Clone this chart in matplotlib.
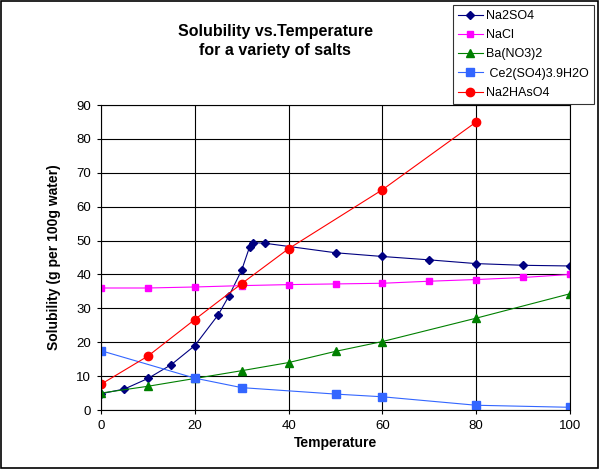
import matplotlib
matplotlib.use("Agg")
import matplotlib.pyplot as plt
from matplotlib.patches import Rectangle

plt.rcParams['font.family'] = ['Liberation Sans', 'DejaVu Sans']

# ---- data ----
na2so4_t = [0, 5, 10, 15, 20, 25, 27.3, 30, 31.7, 32.4, 35, 50, 60, 70, 80, 90, 100]
na2so4_s = [4.8, 6.2, 9.3, 13.4, 19.0, 28.1, 33.7, 41.3, 48.2, 49.4, 49.2, 46.4, 45.3, 44.3, 43.2, 42.7, 42.5]

nacl_t = [0, 10, 20, 30, 40, 50, 60, 70, 80, 90, 100]
nacl_s = [36.0, 36.0, 36.3, 36.7, 37.0, 37.2, 37.4, 38.0, 38.5, 39.1, 40.0]

bano3_t = [0, 10, 20, 30, 40, 50, 60, 80, 100]
bano3_s = [5.0, 7.0, 9.3, 11.6, 14.0, 17.3, 20.2, 27.1, 34.3]

ce_t = [0, 20, 30, 50, 60, 80, 100]
ce_s = [17.5, 9.4, 6.6, 4.7, 3.9, 1.4, 0.8]

arsen_t = [0, 10, 20, 30, 40, 60, 80]
arsen_s = [7.6, 15.9, 26.7, 37.3, 47.6, 65.0, 85.0]

x_ticks = [0, 20, 40, 60, 80, 100]
y_ticks = [0, 10, 20, 30, 40, 50, 60, 70, 80, 90]

fig = plt.figure(figsize=(6, 4.69), dpi=100)
ax = fig.add_axes([101/600, 1 - 410/469, 469/600, 305/469])

ax.plot(na2so4_t, na2so4_s, color='#000080', lw=0.8, marker='D', ms=4, label='Na2SO4')
ax.plot(nacl_t, nacl_s, color='#FF00FF', lw=0.8, marker='s', ms=4.5, label='NaCl')
ax.plot(bano3_t, bano3_s, color='#008000', lw=0.8, marker='^', ms=5.5, label='Ba(NO3)2')
ax.plot(ce_t, ce_s, color='#3366FF', lw=0.8, marker='s', ms=6, label=' Ce2(SO4)3.9H2O')
ax.plot(arsen_t, arsen_s, color='#FF0000', lw=0.8, marker='o', ms=6, label='Na2HAsO4')

ax.set_xlim(0, 100)
ax.set_ylim(0, 90)
ax.set_xticks(x_ticks)
ax.set_yticks(y_ticks)
ax.grid(True, color='black', lw=0.8)
ax.set_axisbelow(True)
for s in ax.spines.values():
    s.set_color('black')
    s.set_linewidth(0.8)
ax.tick_params(direction='out', length=3, width=0.8, labelsize=9.5, pad=4)

ax.set_xlabel('Temperature', fontsize=10, fontweight='bold', labelpad=3)
ax.set_ylabel('Solubility (g per 100g water)', fontsize=10, fontweight='bold', labelpad=11)

fig.text(275/600, 1 - 41/469, 'Solubility vs.Temperature\nfor a variety of salts',
         ha='center', va='center', fontsize=11.5, fontweight='bold', linespacing=1.4)

leg = fig.legend(loc='upper right', bbox_to_anchor=(594/600, 1 - 5/469),
                 fontsize=9, frameon=True, fancybox=False, handlelength=2.0,
                 borderpad=0.4, labelspacing=0.58, handletextpad=0.3,
                 borderaxespad=0)
leg.get_frame().set_edgecolor('black')
leg.get_frame().set_linewidth(0.8)

fig.patches.append(Rectangle((0.002, 0.002), 0.995, 0.995, transform=fig.transFigure,
                             fill=False, ec='black', lw=1.2))

fig.savefig('out.png', dpi=100, facecolor='white')
